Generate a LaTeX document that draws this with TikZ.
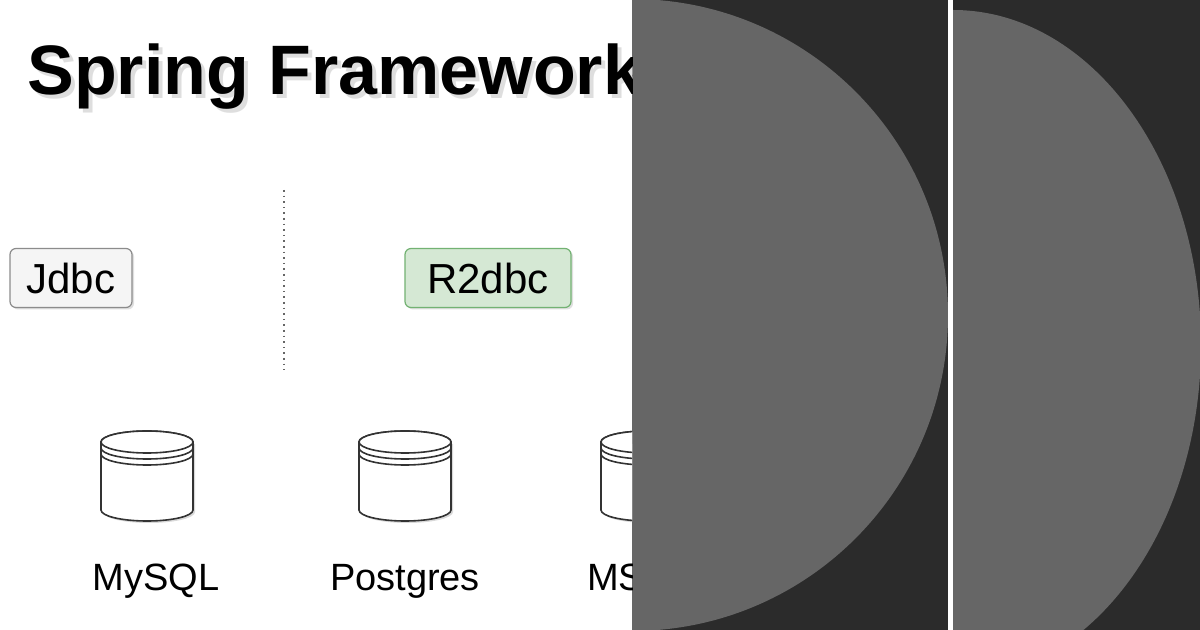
\documentclass[tikz,border=0pt]{standalone}
\usepackage{fontspec}
\setmainfont{Liberation Sans}
\usetikzlibrary{shadows}
\begin{document}
\begin{tikzpicture}[x=0.5pt,y=-0.5pt,
  lbl/.style={font=\fontsize{19}{22}\selectfont},
  tag/.style={rounded corners=3pt,line width=0.6pt,font=\fontsize{21}{24}\selectfont,inner sep=0pt,minimum height=29.5pt,drop shadow={opacity=0.25,shadow xshift=1pt,shadow yshift=-1pt}},
  cyl/.style={line width=0.8pt,draw=black!80,fill=white}]
\useasboundingbox (0,0) rectangle (1200,630);
\fill[white] (0,0) rectangle (632,630);
\fill[black!83] (632,0) rectangle (1200,630);
\begin{scope}
\clip (632,0) rectangle (948,630);
\fill[black!60] (632,315) circle[radius=316];
\end{scope}
\fill[white] (948,0) rectangle (953,630);
\begin{scope}
\clip (953,0) rectangle (1200,630);
\fill[black!60] (953,345) ellipse[x radius=248,y radius=335];
\end{scope}
\begin{scope}
\clip (0,0) rectangle (632,630);
\node[inner sep=0pt,anchor=base west,font=\fontsize{35}{40}\selectfont\bfseries,text=black!25,opacity=0.5] at (31,99) {Spring Framework};
\node[inner sep=0pt,anchor=base west,font=\fontsize{35}{40}\selectfont\bfseries] (title) at (27,95) {Spring Framework};
\draw[dotted,line width=0.8pt,black!60] (284,190) coordinate (d1) -- (284,370) coordinate (d2);
\node[tag,draw=black!45,fill=black!4,minimum width=61pt] (jdbc) at (71,278) {Jdbc};
\node[tag,draw=green!45!black!55,fill={rgb,255:red,213;green,232;blue,212},minimum width=83pt] (r2dbc) at (488,278) {R2dbc};
\foreach \n/\cx in {c1/147,c2/405,c3/647}{
  \begin{scope}[shift={(\cx,0)}]
  \fill[black!15] (-44,444) -- (-44,512) arc[start angle=180,end angle=0,x radius=46,y radius=11] -- (48,444) -- cycle;
  \path[cyl] (-46,442) -- (-46,510) arc[start angle=180,end angle=0,x radius=46,y radius=11] -- (46,442) arc[start angle=0,end angle=-180,x radius=46,y radius=11] -- cycle;
  \draw[cyl] (0,442) ellipse[x radius=46,y radius=11];
  \draw[line width=0.8pt,black!80] (-46,448) arc[start angle=180,end angle=0,x radius=46,y radius=11];
  \draw[line width=0.8pt,black!80] (-46,454) arc[start angle=180,end angle=0,x radius=46,y radius=11];
  \coordinate (\n) at (0,475);
  \end{scope}}
\node[lbl] (my) at (156,581) {MySQL};
\node[lbl] (pg) at (405,581) {Postgres};
\node[lbl,anchor=west] (ms) at (580,581) {MSSQL};
\end{scope}
\end{tikzpicture}
\end{document}
